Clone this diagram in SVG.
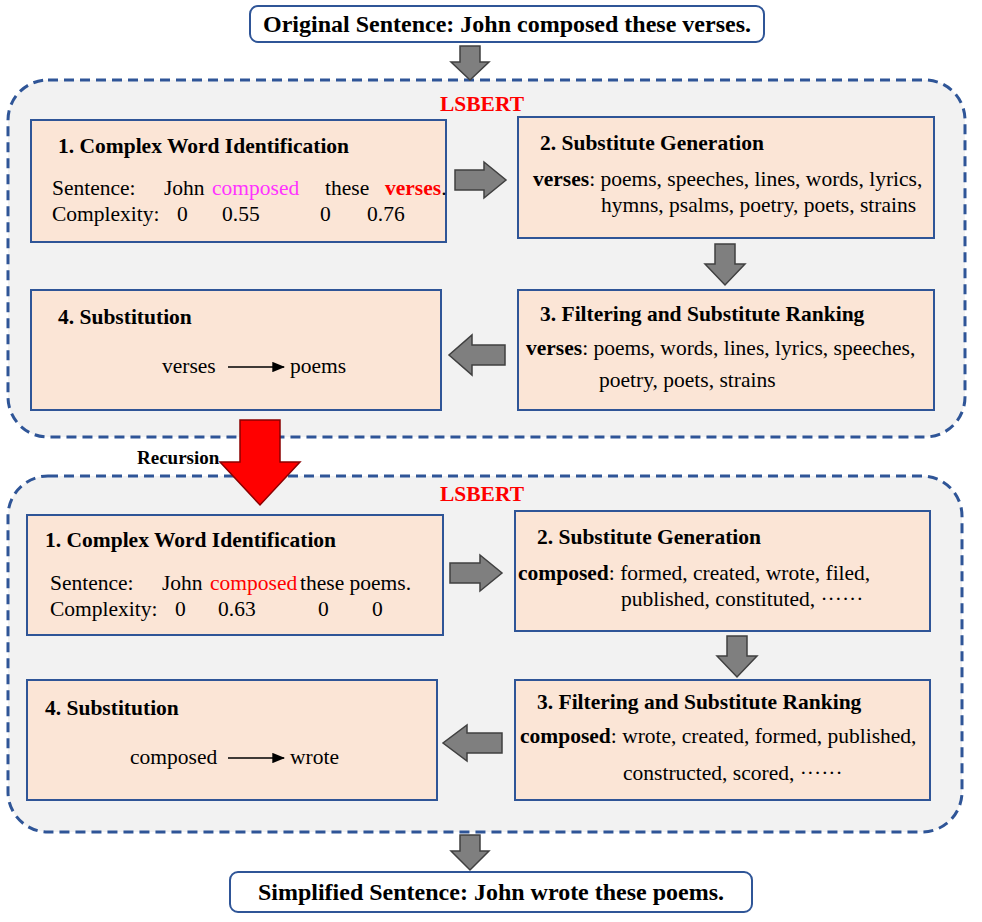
<svg xmlns="http://www.w3.org/2000/svg" width="982" height="922" viewBox="0 0 982 922" font-family="Liberation Serif, Times New Roman, DejaVu Serif, serif">
<style>
text{font-family:'Liberation Serif','Times New Roman','DejaVu Serif',serif;font-size:21.5px;fill:#000}
.b{font-weight:bold}
.box{fill:#fbe5d6;stroke:#2f5597;stroke-width:2}
.io{fill:#fff;stroke:#2f5597;stroke-width:2}
.cont{fill:#f2f2f2;stroke:#2f5597;stroke-width:3;stroke-dasharray:10 6}
.ga{fill:#7f7f7f;stroke:#404040;stroke-width:1.5}
.red{fill:#ff0000;font-weight:bold}
</style>
<defs><marker id="ah" markerWidth="10" markerHeight="8" refX="9" refY="4" orient="auto"><path d="M0,0 L10,4 L0,8 z" fill="#000"/></marker></defs>
<rect class="cont" x="8" y="80" width="957" height="357" rx="40"/>
<rect class="cont" x="8" y="476" width="954" height="356" rx="40"/>
<g id="top"><rect class="io" x="250" y="6" width="514" height="36" rx="8"/><text class="b" x="507" y="32" text-anchor="middle" style="font-size:24px">Original Sentence: John composed these verses.</text></g>
<text x="482" y="111" class="red" text-anchor="middle">LSBERT</text>
<text x="482" y="501" class="red" text-anchor="middle">LSBERT</text>
<g id="n1"><rect class="box" x="31" y="120" width="415" height="122"/>
<text class="b" x="58" y="153">1.  Complex Word Identification</text>
<text x="52" y="195">Sentence:</text><text x="164" y="195">John</text><text x="212" y="195" style="fill:#ff33ff">composed</text><text x="325" y="195">these</text><text x="385" y="195"><tspan style="fill:#ff0000;font-weight:bold">verses</tspan>.</text>
<text x="52" y="221">Complexity:</text><text x="177" y="221">0</text><text x="222" y="221">0.55</text><text x="320" y="221">0</text><text x="367" y="221">0.76</text></g>
<g id="n2"><rect class="box" x="518" y="117" width="416" height="121"/>
<text class="b" x="540" y="150">2.  Substitute Generation</text>
<text x="533" y="186"><tspan class="b">verses</tspan>: poems, speeches, lines, words, lyrics,</text>
<text x="601" y="212">hymns, psalms, poetry, poets, strains</text></g>
<g id="n3"><rect class="box" x="518" y="290" width="416" height="120"/>
<text class="b" x="540" y="321">3. Filtering and Substitute Ranking</text>
<text x="526" y="355"><tspan class="b">verses</tspan>: poems, words, lines, lyrics, speeches,</text>
<text x="599" y="387">poetry, poets, strains</text></g>
<g id="n4"><rect class="box" x="31" y="290" width="410" height="120"/>
<text class="b" x="58" y="324">4. Substitution</text>
<text x="162" y="373">verses</text><text x="290" y="373">poems</text></g>
<g id="m1"><rect class="box" x="27" y="515" width="416" height="120"/>
<text class="b" x="45" y="547">1.  Complex Word Identification</text>
<text x="50" y="590">Sentence:</text><text x="162" y="590">John</text><text x="210" y="590" style="fill:#ff0000">composed</text><text x="300" y="590">these poems.</text>
<text x="50" y="616">Complexity:</text><text x="175" y="616">0</text><text x="218" y="616">0.63</text><text x="318" y="616">0</text><text x="372" y="616">0</text></g>
<g id="m2"><rect class="box" x="515" y="511" width="415" height="120"/>
<text class="b" x="537" y="544">2.  Substitute Generation</text>
<text x="518" y="580"><tspan class="b">composed</tspan>: formed, created, wrote, filed,</text>
<text x="621" y="606">published, constituted, ······</text></g>
<g id="m3"><rect class="box" x="515" y="680" width="415" height="120"/>
<text class="b" x="537" y="709">3. Filtering and Substitute Ranking</text>
<text x="520" y="743"><tspan class="b">composed</tspan>: wrote, created, formed, published,</text>
<text x="623" y="780">constructed, scored, ······</text></g>
<g id="m4"><rect class="box" x="27" y="680" width="410" height="120"/>
<text class="b" x="45" y="715">4. Substitution</text>
<text x="130" y="764">composed</text><text x="290" y="764">wrote</text></g>
<g id="bottom"><rect class="io" x="230" y="872" width="522" height="40" rx="8"/><text class="b" x="491" y="900" text-anchor="middle" style="font-size:24px">Simplified Sentence: John wrote these poems.</text></g>
<g id="connectors">
<path class="ga" d="M460,46 H480 V62 H489 L470,80 L451,62 H460 Z"/>
<path class="ga" d="M455,170 H484 V162 L506,180 L484,198 V190 H455 Z"/>
<path class="ga" d="M715,244 H735 V264 H745 L725,285 L705,264 H715 Z"/>
<path class="ga" d="M505,345 H472 V335 L449,355 L472,375 V365 H505 Z"/>
<path d="M240,420 H280 V462 H300 L260,505 L220,462 H240 Z" fill="#ff0000" stroke="#8b0000" stroke-width="1.5"/>
<text class="b" x="137" y="464" style="font-size:19px">Recursion</text>
<path class="ga" d="M450,563 H480 V555 L502,573 L480,591 V583 H450 Z"/>
<path class="ga" d="M727,636 H747 V656 H757 L737,677 L717,656 H727 Z"/>
<path class="ga" d="M502,733 H467 V725 L443,743 L467,761 V753 H502 Z"/>
<path class="ga" d="M460,835 H480 V851 H489 L470,870 L451,851 H460 Z"/>
<line x1="228" y1="367" x2="284" y2="367" stroke="#000" stroke-width="1.3" marker-end="url(#ah)"/>
<line x1="228" y1="758" x2="284" y2="758" stroke="#000" stroke-width="1.3" marker-end="url(#ah)"/>
</g>
</svg>
